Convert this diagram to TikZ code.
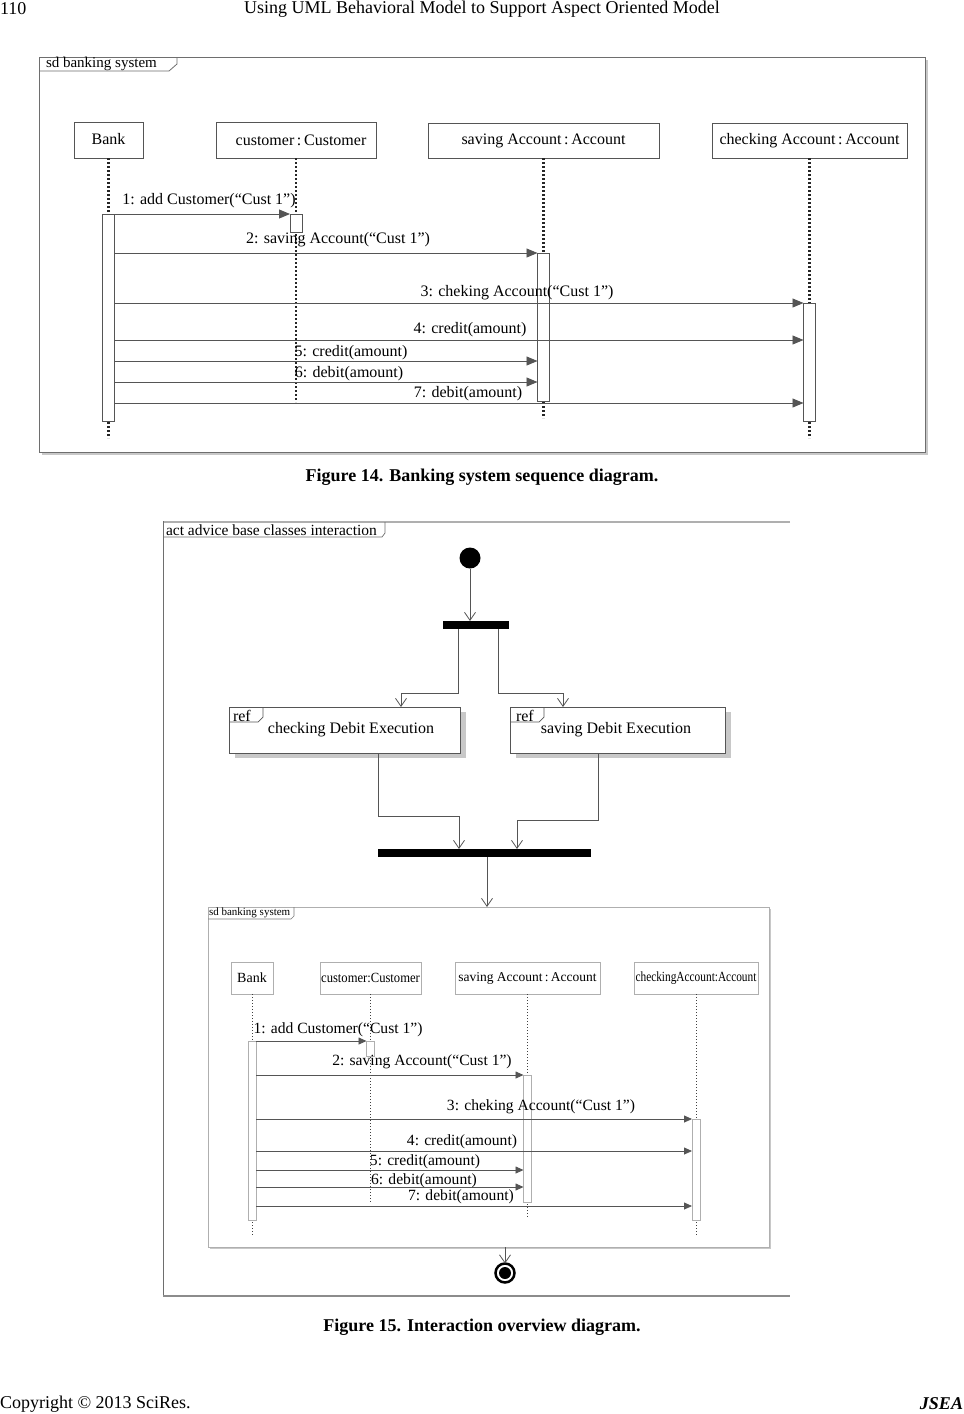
\documentclass[tikz,border=0pt]{standalone}
\usepackage{fontspec}
\setmainfont{Liberation Serif}
\usetikzlibrary{arrows.meta}
\newcommand\myfs[1]{\fontsize{#1pt}{#1pt}\selectfont}
\definecolor{lc}{RGB}{85,85,85}
\definecolor{framec}{RGB}{110,110,110}
\definecolor{lightc}{RGB}{175,175,175}
\definecolor{shadowc}{RGB}{200,200,200}
\begin{document}
\begin{tikzpicture}[x=1pt,y=-1pt,
  every node/.style={inner sep=0pt,outer sep=0pt},
  txt/.style={font={\myfs{16}},text=black},
  txtb/.style={font={\myfs{15.6}},text=black},
  obj/.style={draw=lc,line width=0.9pt,fill=white,font={\myfs{16}},anchor=north west},
  objb/.style={draw=lightc,line width=0.9pt,fill=white,font={\myfs{14}},anchor=north west,minimum height=32pt},
  life/.style={draw=black!85,line width=2.2pt,dash pattern=on 2pt off 2pt},
  lifeb/.style={draw=black!75,line width=1pt,dash pattern=on 1pt off 2pt},
  actbar/.style={draw=lc,fill=white,line width=0.9pt,minimum width=12pt,anchor=north},
  actbarb/.style={draw=lightc,fill=white,line width=0.8pt,minimum width=8pt,anchor=north},
  msg/.style={draw=lc,line width=0.9pt,-{Triangle[length=11pt,width=9pt]}},
  msgb/.style={draw=lc,line width=0.8pt,-{Triangle[length=8pt,width=7pt]}},
  flow/.style={draw=lc,line width=0.8pt,-{Straight Barb[length=8pt,width=11pt,line width=0.8pt]}},
  refbox/.style={draw=lc,line width=0.9pt,fill=white,font={\myfs{16}},anchor=north west,minimum height=46pt},
  barnode/.style={fill=black,minimum height=8pt}
]
\useasboundingbox (0,0) rectangle (964,1414);

% header
\node[anchor=west,font={\myfs{18}}] (pg) at (0,9) {110};
\node[font={\myfs{18}}] (title) at (482,9) {Using UML Behavioral Model to Support Aspect Oriented Model};

% ================= Figure 14 =================
\fill[shadowc] (42,60) rectangle (928,455);
\node[draw=framec,fill=white,line width=1pt,minimum width=886pt,minimum height=395pt,anchor=north west] (F1) at (39,57) {};
\node[anchor=west,font={\myfs{15}}] (T1) at (46,64) {sd banking system};
\draw[framec,line width=0.8pt] (39,71) -- (169,71) -- (177,64) -- (177,57);

\node[obj,minimum width=69pt,minimum height=36pt] (bank) at (74,122) {\raisebox{3pt}{Bank}};
\node[obj,minimum width=160pt,minimum height=36pt] (cust) at (216,122) {\hspace{10pt}customer\,:\,Customer};
\node[obj,minimum width=231pt,minimum height=35pt] (save) at (428,123) {saving Account\,:\,Account};
\node[obj,minimum width=195pt,minimum height=35pt] (check) at (712,123) {checking Account\,:\,Account};

\draw[life] (bank.south) -- (bank.south |- 0,438);
\draw[life] (cust.south) -- (cust.south |- 0,402);
\draw[life] (save.south) -- (save.south |- 0,418);
\draw[life] (check.south) -- (check.south |- 0,438);

\node[actbar,minimum height=207pt] (bankA) at (bank.south |- 0,214) {};
\node[actbar,minimum height=18pt] (custA) at (cust.south |- 0,214) {};
\node[actbar,minimum height=148pt] (saveA) at (save.south |- 0,253) {};
\node[actbar,minimum height=118pt] (checkA) at (check.south |- 0,303) {};

\coordinate (y1) at (0,214);
\coordinate (y2) at (0,253);
\coordinate (y3) at (0,303);
\coordinate (y4) at (0,340);
\coordinate (y5) at (0,361);
\coordinate (y6) at (0,382);
\coordinate (y7) at (0,403);
\draw[msg] (bankA.east |- y1) -- (custA.west |- y1);
\draw[msg] (bankA.east |- y2) -- (saveA.west |- y2);
\draw[msg] (bankA.east |- y3) -- (checkA.west |- y3);
\draw[msg] (bankA.east |- y4) -- (checkA.west |- y4);
\draw[msg] (bankA.east |- y5) -- (saveA.west |- y5);
\draw[msg] (bankA.east |- y6) -- (saveA.west |- y6);
\draw[msg] (bankA.east |- y7) -- (checkA.west |- y7);

\node[txt] (L1) at (209,201) {1: add Customer(“Cust 1”)};
\node[txt] (L2) at (338,240) {2: saving Account(“Cust 1”)};
\node[txt] (L3) at (517,293) {3: cheking Account(“Cust 1”)};
\node[txt] (L4) at (470,330) {4: credit(amount)};
\node[txt] (L5) at (351,353) {5: credit(amount)};
\node[txt] (L6) at (349,374) {6: debit(amount)};
\node[txt] (L7) at (468,394) {7: debit(amount)};

\node[font={\bfseries\myfs{18}}] (cap14) at (482,477) {Figure 14. Banking system sequence diagram.};

% ================= Figure 15 =================
\draw[lightc,line width=2pt] (790,522) -- (163,522);
\draw[framec,line width=0.9pt] (163,521) -- (163,1297);
\draw[lightc!80!black,line width=2pt] (163,1296) -- (790,1296);
\node[anchor=west,font={\myfs{15.5}}] (T2) at (166,530) {act advice base classes interaction};
\draw[framec,line width=0.7pt] (163,537) -- (382,537) -- (385,533) -- (385,522);

\node[circle,fill=black,minimum size=21pt] (init) at (470,558) {};
\node[barnode,minimum width=66pt] (fork) at (476,625) {};
\draw[flow] (init) -- (init |- fork.north);

\fill[shadowc] (235,712) rectangle (466,758);
\fill[shadowc] (516,712) rectangle (731,758);
\node[refbox,minimum width=231pt] (refL) at (229,707) {\hspace{13pt}\raisebox{-2pt}{checking Debit Execution}};
\node[refbox,minimum width=215pt] (refR) at (510,707) {\hspace{-3pt}\raisebox{-2pt}{saving Debit Execution}};
\node[anchor=west,font={\myfs{16}}] (refLt) at (233,716) {ref};
\draw[lc,line width=0.7pt] (229,722) -- (258,722) -- (263,717) -- (263,707);
\node[anchor=west,font={\myfs{16}}] (refRt) at (516,716) {ref};
\draw[lc,line width=0.7pt] (510,722) -- (539,722) -- (544,717) -- (544,707);

\node[barnode,minimum width=213pt,anchor=north west] (join) at (378,849) {};

\draw[flow] ([xshift=15pt]fork.south west) -- ++(0,64) -| ([xshift=172pt]refL.north west);
\draw[flow] ([xshift=55pt]fork.south west) -- ++(0,64) -| ([xshift=53pt]refR.north west);
\draw[flow] ([xshift=149pt]refL.south west) -- ++(0,63) -| ([xshift=81pt]join.north west);
\draw[flow] ([xshift=88pt]refR.south west) -- ++(0,67) -| ([xshift=139pt]join.north west);

% inner sd frame
\fill[shadowc] (210,909) rectangle (771,1249);
\node[draw=lightc,fill=white,line width=1pt,minimum width=561pt,minimum height=340pt,anchor=north west] (sdf) at (208,907) {};
\node[anchor=west,font={\myfs{11}}] (T3) at (209,913) {sd banking system};
\draw[lightc!70!black,line width=0.6pt] (208,919) -- (291,919) -- (294,916) -- (294,907);

\coordinate (jo) at ([xshift=109pt]join.south west);
\draw[flow] (jo) -- (jo |- sdf.north);

\node[objb,minimum width=42pt] (bank2) at (231,962) {Bank};
\node[objb,minimum width=101pt] (cust2) at (320,962) {\scalebox{0.9}[1]{customer:Customer}};
\node[objb,minimum width=145pt] (save2) at (455,962) {\myfs{13.5}saving Account\,:\,Account};
\node[objb,minimum width=124pt] (check2) at (634,962) {\scalebox{0.81}[1]{checkingAccount:Account}};

\draw[lifeb] (bank2.south) -- (bank2.south |- 0,1236);
\draw[lifeb] (cust2.south) -- (cust2.south |- 0,1203);
\draw[lifeb] (save2.south) -- (save2.south |- 0,1218);
\draw[lifeb] (check2.south) -- (check2.south |- 0,1236);

\node[actbarb,minimum height=179pt] (bankA2) at (bank2.south |- 0,1041) {};
\node[actbarb,minimum height=15pt] (custA2) at (cust2.south |- 0,1041) {};
\node[actbarb,minimum height=127pt] (saveA2) at (save2.south |- 0,1075) {};
\node[actbarb,minimum height=101pt] (checkA2) at (check2.south |- 0,1119) {};

\coordinate (z1) at (0,1041);
\coordinate (z2) at (0,1075);
\coordinate (z3) at (0,1119);
\coordinate (z4) at (0,1151);
\coordinate (z5) at (0,1170);
\coordinate (z6) at (0,1187);
\coordinate (z7) at (0,1206);
\draw[msgb] (bankA2.east |- z1) -- (custA2.west |- z1);
\draw[msgb] (bankA2.east |- z2) -- (saveA2.west |- z2);
\draw[msgb] (bankA2.east |- z3) -- (checkA2.west |- z3);
\draw[msgb] (bankA2.east |- z4) -- (checkA2.west |- z4);
\draw[msgb] (bankA2.east |- z5) -- (saveA2.west |- z5);
\draw[msgb] (bankA2.east |- z6) -- (saveA2.west |- z6);
\draw[msgb] (bankA2.east |- z7) -- (checkA2.west |- z7);

\node[txtb] (M1) at (338,1030) {1: add Customer(“Cust 1”)};
\node[txtb] (M2) at (422,1062) {2: saving Account(“Cust 1”)};
\node[txtb] (M3) at (541,1107) {3: cheking Account(“Cust 1”)};
\node[txtb] (M4) at (462,1142) {4: credit(amount)};
\node[txtb] (M5) at (425,1162) {5: credit(amount)};
\node[txtb] (M6) at (424,1181) {6: debit(amount)};
\node[txtb] (M7) at (461,1197) {7: debit(amount)};

\node[circle,draw=black,line width=2.5pt,minimum size=19pt] (final) at (505,1273) {};
\fill[black] (final.center) circle (6);
\draw[flow] (sdf.south -| final) -- (final.north);

\node[font={\bfseries\myfs{18}}] (cap15) at (482,1327) {Figure 15. Interaction overview diagram.};

% footer
\node[anchor=west,font={\myfs{18}}] (copy) at (0,1404) {Copyright © 2013 SciRes.};
\node[anchor=east,font={\bfseries\itshape\myfs{18}}] (jsea) at (963,1404) {JSEA};
\end{tikzpicture}
\end{document}
